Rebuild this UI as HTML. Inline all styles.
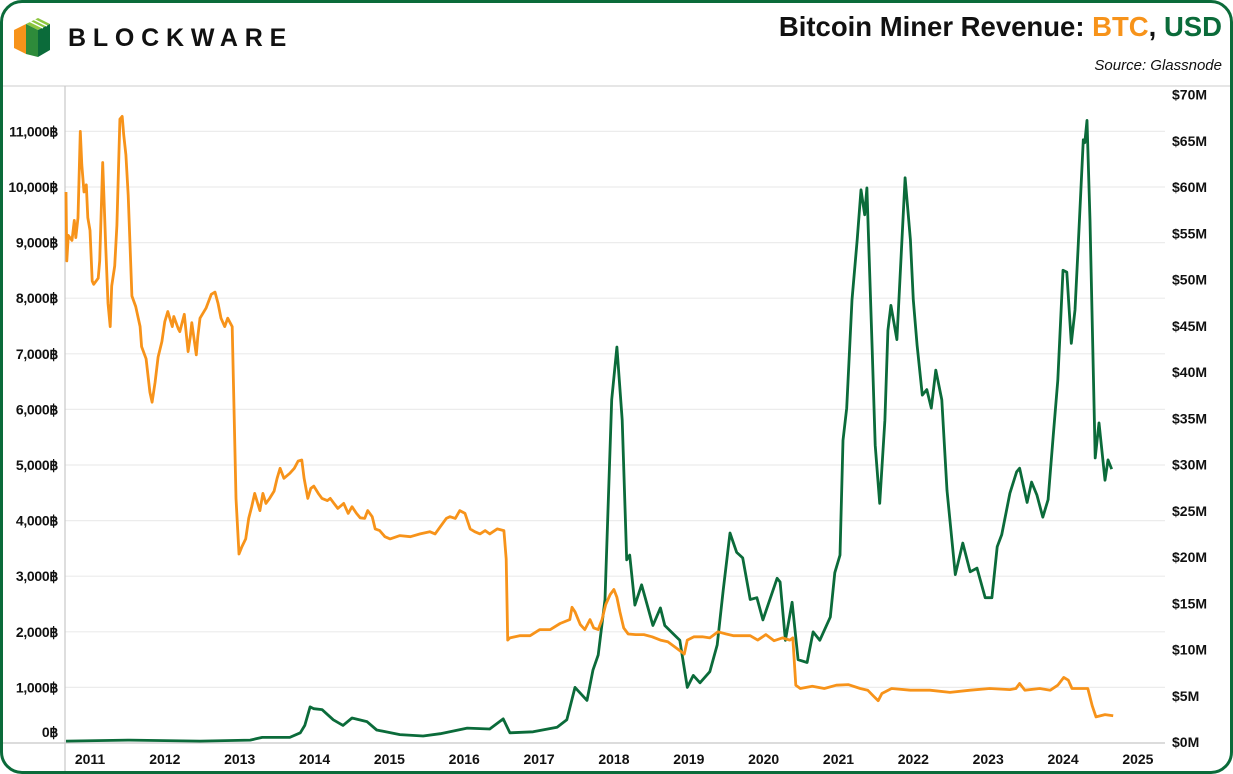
<!DOCTYPE html>
<html><head><meta charset="utf-8">
<style>
html,body{margin:0;padding:0;background:#fff;}
body{width:1233px;height:774px;overflow:hidden;position:relative;font-family:"Liberation Sans",sans-serif;}
#frame{position:absolute;left:0;top:0;width:1227px;height:768px;border:3px solid #0b6b3a;border-radius:22px;}
</style></head>
<body>
<div id="frame"></div>
<svg width="1233" height="774" style="position:absolute;left:0;top:0">
  <g>
    <polygon points="14,30 26,24 26,54 14,48" fill="#f7931a"/>
    <polygon points="26,24 38,18 50,24 38,30" fill="#8cc63f"/>
    <polygon points="26,24 38,30 38,57 26,54" fill="#2e8b3a"/>
    <polygon points="38,30 50,24 50,50 38,57" fill="#0b6b3a"/>
    <line x1="29" y1="21" x2="43" y2="28" stroke="#fff" stroke-width="1.5"/>
    <line x1="33" y1="19" x2="47" y2="26" stroke="#fff" stroke-width="1.5"/>
    <text x="68" y="46" font-size="25" font-weight="bold" letter-spacing="6.8" fill="#111">BLOCKWARE</text>
  </g>
  <text x="1222" y="36" text-anchor="end" font-size="27.5" font-weight="bold" fill="#111">Bitcoin Miner Revenue: <tspan fill="#f7931a">BTC</tspan>, <tspan fill="#0b6b3a">USD</tspan></text>
  <text x="1222" y="70" text-anchor="end" font-size="15" font-style="italic" fill="#111">Source: Glassnode</text>
  <line x1="3" y1="86" x2="1230" y2="86" stroke="#ccc" stroke-width="1"/>
  <g id="grid"></g>
  <g id="axes"></g>
  <g id="series"></g>
</svg>
<script>
const btcDates=[2010.68,2010.69,2010.71,2010.76,2010.79,2010.81,2010.84,2010.87,2010.89,2010.92,2010.95,2010.97,2011.00,2011.03,2011.05,2011.11,2011.13,2011.17,2011.21,2011.24,2011.27,2011.29,2011.33,2011.36,2011.40,2011.43,2011.45,2011.48,2011.51,2011.56,2011.61,2011.67,2011.69,2011.75,2011.80,2011.83,2011.87,2011.91,2011.96,2012.00,2012.04,2012.10,2012.12,2012.18,2012.20,2012.26,2012.31,2012.34,2012.36,2012.42,2012.44,2012.47,2012.55,2012.62,2012.67,2012.71,2012.75,2012.80,2012.84,2012.90,2012.95,2012.99,2013.03,2013.08,2013.12,2013.16,2013.20,2013.24,2013.27,2013.31,2013.35,2013.40,2013.46,2013.50,2013.54,2013.59,2013.67,2013.73,2013.78,2013.83,2013.86,2013.91,2013.95,2013.99,2014.05,2014.10,2014.17,2014.21,2014.26,2014.31,2014.39,2014.45,2014.50,2014.56,2014.61,2014.67,2014.71,2014.77,2014.81,2014.87,2014.94,2015.01,2015.14,2015.28,2015.41,2015.54,2015.61,2015.68,2015.76,2015.81,2015.88,2015.94,2016.01,2016.08,2016.14,2016.21,2016.28,2016.34,2016.44,2016.53,2016.56,2016.58,2016.61,2016.74,2016.88,2017.01,2017.15,2017.28,2017.41,2017.44,2017.48,2017.55,2017.61,2017.68,2017.73,2017.79,2017.84,2017.89,2017.95,2018.00,2018.04,2018.08,2018.13,2018.19,2018.29,2018.40,2018.51,2018.62,2018.72,2018.83,2018.94,2018.98,2019.07,2019.18,2019.28,2019.39,2019.50,2019.60,2019.71,2019.82,2019.92,2020.03,2020.14,2020.25,2020.35,2020.39,2020.43,2020.49,2020.65,2020.81,2020.97,2021.13,2021.29,2021.39,2021.47,2021.53,2021.58,2021.71,2021.96,2022.22,2022.49,2022.76,2023.02,2023.29,2023.37,2023.42,2023.49,2023.69,2023.83,2023.93,2024.01,2024.07,2024.12,2024.33,2024.39,2024.44,2024.56,2024.67];
const btcValues=[9910,8670,9130,9040,9400,9090,9450,11000,10400,9910,10040,9450,9220,8310,8250,8360,8670,10440,8940,7910,7490,8220,8580,9310,11220,11270,10940,10580,9850,8040,7850,7490,7130,6910,6310,6130,6490,6940,7220,7580,7760,7490,7670,7450,7400,7710,7040,7310,7560,6980,7310,7640,7820,8070,8110,7910,7640,7490,7640,7490,4400,3400,3530,3670,4040,4250,4490,4310,4180,4490,4310,4400,4530,4760,4940,4760,4850,4940,5070,5090,4760,4400,4580,4620,4490,4400,4360,4400,4310,4220,4310,4130,4250,4130,4050,4040,4180,4070,3850,3820,3710,3670,3730,3710,3760,3800,3760,3890,4040,4070,4040,4180,4130,3850,3800,3760,3820,3760,3850,3820,3310,1850,1890,1930,1930,2040,2040,2150,2220,2440,2360,2130,2040,2220,2070,2040,2220,2490,2670,2760,2620,2360,2070,1960,1950,1950,1910,1850,1820,1710,1600,1850,1910,1910,1890,2000,1960,1930,1930,1930,1850,1950,1840,1890,1850,1890,1040,980,1020,980,1040,1050,980,950,840,760,890,980,950,950,910,950,980,960,980,1070,950,980,950,1040,1180,1130,980,980,670,470,510,490];
const usdDates=[2010.68,2011.53,2012.47,2013.14,2013.30,2013.67,2013.81,2013.87,2013.94,2013.99,2014.10,2014.25,2014.38,2014.50,2014.70,2014.83,2015.14,2015.45,2015.68,2016.04,2016.34,2016.52,2016.61,2016.92,2017.24,2017.37,2017.48,2017.64,2017.72,2017.79,2017.88,2017.97,2018.04,2018.11,2018.17,2018.21,2018.28,2018.37,2018.52,2018.62,2018.68,2018.88,2018.98,2019.06,2019.15,2019.28,2019.38,2019.46,2019.55,2019.64,2019.72,2019.82,2019.91,2019.99,2020.18,2020.22,2020.29,2020.38,2020.46,2020.58,2020.66,2020.75,2020.89,2020.95,2021.02,2021.06,2021.11,2021.18,2021.25,2021.30,2021.35,2021.38,2021.45,2021.49,2021.55,2021.62,2021.66,2021.70,2021.78,2021.82,2021.89,2021.96,2022.00,2022.05,2022.12,2022.18,2022.24,2022.30,2022.38,2022.45,2022.56,2022.66,2022.76,2022.85,2022.96,2023.05,2023.12,2023.18,2023.29,2023.38,2023.42,2023.52,2023.58,2023.65,2023.73,2023.80,2023.87,2023.93,2024.00,2024.05,2024.11,2024.16,2024.20,2024.27,2024.29,2024.32,2024.36,2024.43,2024.48,2024.56,2024.60,2024.65];
const usdValues=[0.1,0.2,0.1,0.2,0.5,0.5,1.0,1.8,3.8,3.6,3.5,2.4,1.8,2.6,2.2,1.3,0.8,0.65,0.9,1.5,1.4,2.5,1.0,1.1,1.6,2.4,5.9,4.5,7.8,9.4,15.4,37,42.7,34.8,19.7,20.2,14.8,17.0,12.6,14.5,12.6,11.0,5.9,7.2,6.4,7.6,10.5,16.4,22.6,20.5,19.9,15.4,15.6,13.2,17.7,17.3,11.0,15.1,8.9,8.6,11.9,11.0,13.5,18.3,20.2,32.6,36.1,47.8,54.3,59.7,57.0,59.9,42.4,32.1,25.8,34.8,44.5,47.2,43.5,49.9,61.0,54.3,47.8,42.9,37.5,38.1,36.1,40.2,37.0,27.2,18.1,21.5,18.4,18.8,15.6,15.6,21.1,22.4,26.9,29.2,29.6,25.9,28.1,26.7,24.3,26.2,33.2,39.1,51.0,50.8,43.1,46.7,53.2,65.1,64.8,67.2,56.4,30.7,34.5,28.3,30.5,29.5];
const leftTicks=[0,1000,2000,3000,4000,5000,6000,7000,8000,9000,10000,11000];
const rightTicks=[0,5,10,15,20,25,30,35,40,45,50,55,60,65,70];
const yearTicks=[2011,2012,2013,2014,2015,2016,2017,2018,2019,2020,2021,2022,2023,2024,2025];

const NS='http://www.w3.org/2000/svg';
const X0=65,X1=1165;
function xs(t){return 90+(t-2011)*74.85;}
function yl(v){return 743-v*0.0556;}
function yr(v){return 742-v*9.25;}
function mk(tag,attrs,parent){const e=document.createElementNS(NS,tag);for(const k in attrs)e.setAttribute(k,attrs[k]);parent.appendChild(e);return e;}
const grid=document.getElementById('grid'),axes=document.getElementById('axes'),ser=document.getElementById('series');

leftTicks.forEach(v=>{
  if(v>0){
    const l=mk('line',{x1:X0,x2:X1,y1:yl(v),y2:yl(v),stroke:'#ececec','stroke-width':1.2},grid);
    
    
  }
  const t=mk('text',{x:58,y:(v===0?737:yl(v)+5),'text-anchor':'end','font-size':14,'font-weight':'bold',fill:'#111','letter-spacing':-0.3},axes);
  t.textContent=v.toLocaleString('en-US')+'฿';
  
  
});
rightTicks.forEach(v=>{
  const t=mk('text',{x:1172,y:yr(v)+5,'text-anchor':'start','font-size':14,'font-weight':'bold',fill:'#111'},axes);
  t.textContent='$'+v+'M';
  
  
});
yearTicks.forEach(y=>{
  const t=mk('text',{x:xs(y),y:764,'text-anchor':'middle','font-size':14,'font-weight':'bold',fill:'#111'},axes);
  t.textContent=y;
  
  
});
const va=mk('line',{x1:X0,x2:X0,y1:86,y2:771,stroke:'#c8c8c8','stroke-width':1.2},axes);


const ha=mk('line',{x1:3,x2:X1,y1:743,y2:743,stroke:'#c8c8c8','stroke-width':1.2},axes);



function path(dates,vals,yf){return dates.map((d,i)=>(i?'L':'M')+xs(d).toFixed(1)+','+yf(vals[i]).toFixed(1)).join(' ');}
const pu=mk('path',{d:path(usdDates,usdValues,yr),fill:'none',stroke:'#0b6b3a','stroke-width':2.8,'stroke-linejoin':'round'},ser);


const pb=mk('path',{d:path(btcDates,btcValues,yl),fill:'none',stroke:'#f7931a','stroke-width':2.8,'stroke-linejoin':'round'},ser);


</script>
</body></html>
